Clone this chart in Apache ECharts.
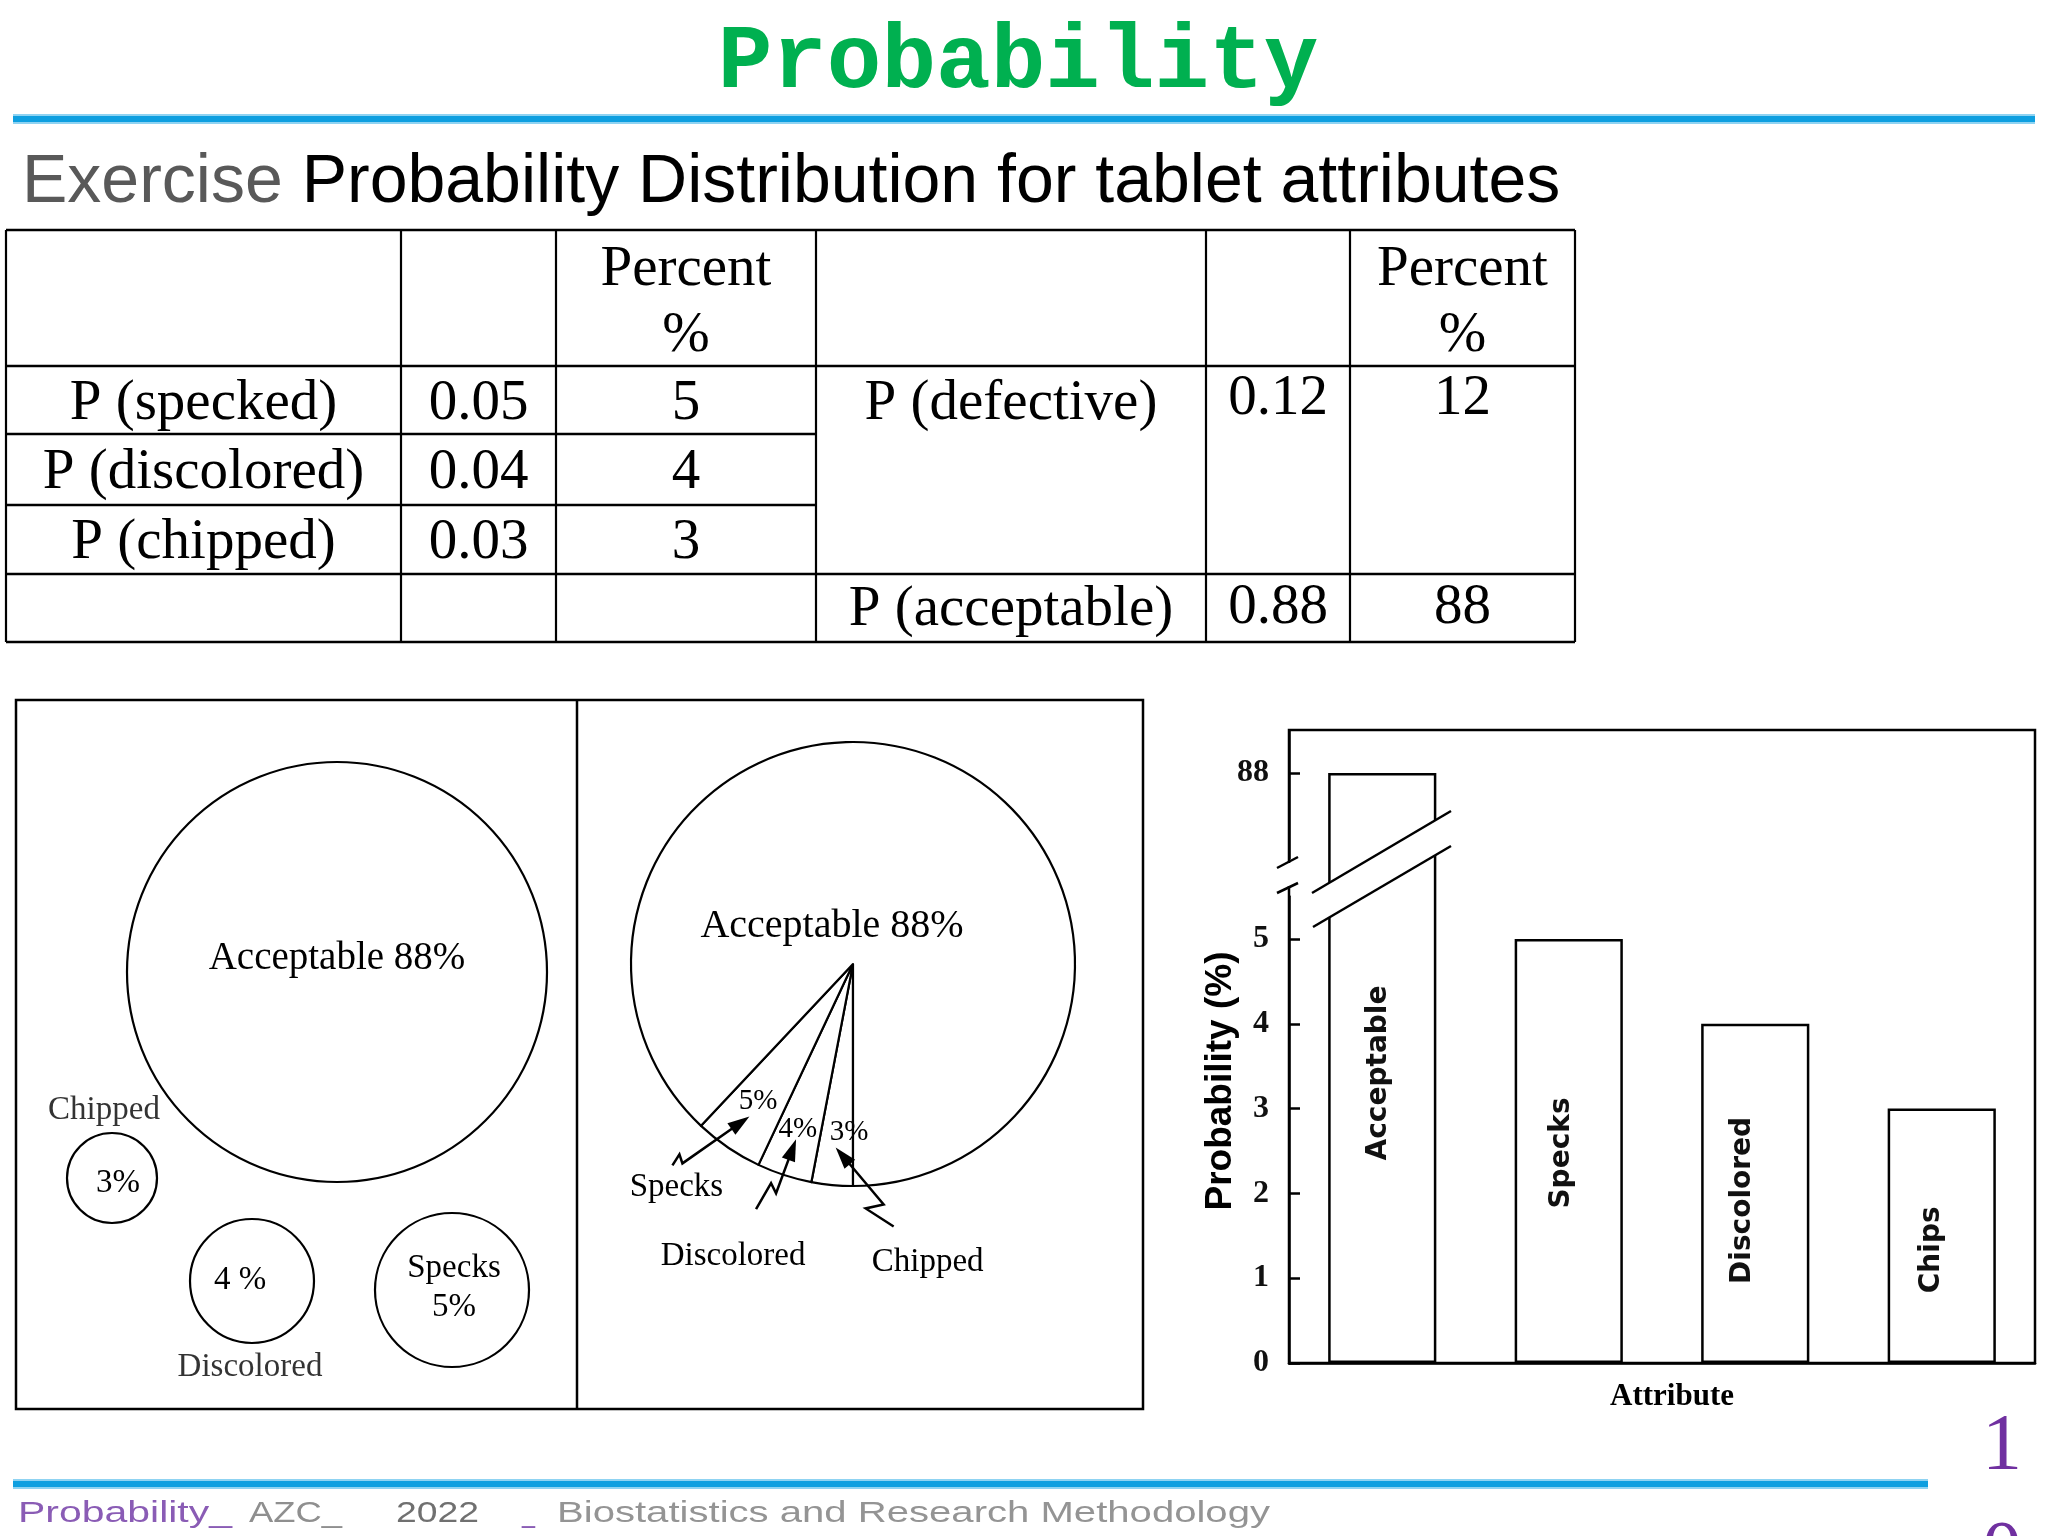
<!DOCTYPE html>
<html>
<head>
<meta charset="utf-8">
<script src="https://cdn.jsdelivr.net/npm/echarts@6/dist/echarts.min.js"></script>
<style>
html,body{margin:0;padding:0;background:#fff;}
#c{width:2048px;height:1536px;}
</style>
</head>
<body>
<div id="c"></div>
<script>
// ---------------- data ----------------
const attributes = ['Acceptable', 'Specks', 'Discolored', 'Chips'];
const attributePercent = [88, 5, 4, 3];
const lowTicks = [0, 1, 2, 3, 4, 5];
const highTicks = [88];

const tableLabels = ['P (specked)', 'P (discolored)', 'P (chipped)'];
const tableProb = [0.05, 0.04, 0.03];
const tablePercent = [5, 4, 3];
const summaryLabels = ['P (defective)', 'P (acceptable)'];
const summaryProb = [0.12, 0.88];
const summaryPercent = [12, 88];

const bubbleNames = ['Acceptable', 'Chipped', 'Discolored', 'Specks'];
const bubbleValues = [88, 3, 4, 5];

const pieNames = ['Chipped', 'Discolored', 'Specks', 'Acceptable'];
const pieValues = [3, 4, 5, 88];

// ---------------- layout / style ----------------
const SERIF = '"Liberation Serif", "Times New Roman", serif';
const SANS = '"Liberation Sans", Arial, sans-serif';
const G = [];
function T(x, y, text, font, fill, align, extra) {
  const el = { type: 'text', x: x, y: y, z: 10,
    style: { text: text, font: font, fill: fill || '#000',
      align: align || 'center', textAlign: align || 'center',
      verticalAlign: 'middle', textVerticalAlign: 'middle' } };
  if (extra) Object.assign(el, extra);
  G.push(el);
}
function L(x1, y1, x2, y2, w, z, color) {
  G.push({ type: 'line', z: z || 10, shape: { x1, y1, x2, y2 },
    style: { stroke: color || '#000', lineWidth: w || 2.5 } });
}
const mctx = document.createElement('canvas').getContext('2d');
function fitScale(text, font, width) { mctx.font = font; return width / mctx.measureText(text).width; }

// header
T(1018, 64, 'Probability', 'bold 91px "Liberation Mono", "Courier New", monospace', '#00B050');
G.push({ type: 'rect', z: 5, shape: { x: 13, y: 114, width: 2022, height: 10 }, style: { fill: '#8fd3f2' } });
G.push({ type: 'rect', z: 6, shape: { x: 13, y: 116, width: 2022, height: 6 }, style: { fill: '#0e9fe0' } });
G.push({ type: 'text', x: 22, y: 183, z: 10, style: {
  text: '{g|Exercise} {b|Probability Distribution for tablet attributes}',
  align: 'left', textAlign: 'left', verticalAlign: 'middle', textVerticalAlign: 'middle',
  rich: { g: { font: '68px ' + SANS, fill: '#595959', color: '#595959' },
          b: { font: '68px ' + SANS, fill: '#000', color: '#000' } },
  font: '68px ' + SANS } });

// table
const TC = [6, 401, 556, 816, 1206, 1350, 1575];
const TR = [230, 366, 434, 505, 574, 642];
[230, 366, 574, 642].forEach(y => L(TC[0], y, TC[6], y, 2.5));
[434, 505].forEach(y => L(TC[0], y, TC[3], y, 2.5));
TC.forEach(x => L(x, TR[0], x, TR[5], 2.2));
const TF = '57px ' + SERIF;
const colMid = i => (TC[i] + TC[i + 1]) / 2;
[2, 5].forEach(c => { T(colMid(c), 270, 'Percent', TF); T(colMid(c), 336, '%', TF); });
const rowMid = [404, 473, 543];
tableLabels.forEach((lab, i) => {
  T(colMid(0), rowMid[i], lab, TF);
  T(colMid(1), rowMid[i], tableProb[i].toFixed(2), TF);
  T(colMid(2), rowMid[i], String(tablePercent[i]), TF);
});
T(colMid(3), 404, summaryLabels[0], TF);
T(colMid(4), 399, summaryProb[0].toFixed(2), TF);
T(colMid(5), 399, String(summaryPercent[0]), TF);
T(colMid(3), 610, summaryLabels[1], TF);
T(colMid(4), 608, summaryProb[1].toFixed(2), TF);
T(colMid(5), 608, String(summaryPercent[1]), TF);

// diagram frame (bubbles + pie)
G.push({ type: 'rect', z: 10, shape: { x: 16, y: 700, width: 1127, height: 709 }, style: { fill: 'none', stroke: '#000', lineWidth: 2.5 } });
L(577, 700, 577, 1409, 2.5);

// pie geometry
const PIE = { cx: 853, cy: 964, r: 222 };
const pieTotal = pieValues.reduce((a, b) => a + b, 0);
const pieMid = [];
(function () { let acc = 0; pieValues.forEach(v => { pieMid.push((acc + v / 2) / pieTotal * 360); acc += v; }); })();
function polar(deg, frac) {
  const t = deg * Math.PI / 180;
  return [PIE.cx - frac * PIE.r * Math.sin(t), PIE.cy + frac * PIE.r * Math.cos(t)];
}
const PCT_NUDGE = { Chipped: [12, 0], Discolored: [-3, 5], Specks: [0, -2] };
// callouts (annotation offsets relative to arrow tip)
const CALLOUT = {
  Specks:     { label: [-73, 71],  tail: [[-77, 49], [-70, 38], [-67, 47]] },
  Discolored: { label: [-63, 117], tail: [[-40, 70], [-25, 44], [-20, 54]] },
  Chipped:    { label: [92, 115],  tail: [[58, 79], [30, 61], [48, 57]] }
};
pieNames.forEach((n, i) => {
  const c = CALLOUT[n]; if (!c) return;
  const tip = polar(pieMid[i], 0.83);
  const pts = c.tail.map(p => [tip[0] + p[0], tip[1] + p[1]]);
  const last = pts[pts.length - 1];
  let dx = tip[0] - last[0], dy = tip[1] - last[1];
  const len = Math.hypot(dx, dy); dx /= len; dy /= len;
  const AL = 22, AW = 7;
  const base = [tip[0] - dx * AL, tip[1] - dy * AL];
  G.push({ type: 'polyline', z: 12, shape: { points: pts.concat([[tip[0] - dx * AL * 0.6, tip[1] - dy * AL * 0.6]]) },
    style: { stroke: '#000', lineWidth: 2.5, fill: 'none' } });
  G.push({ type: 'polygon', z: 12, shape: { points: [tip, [base[0] - dy * AW, base[1] + dx * AW], [base[0] + dy * AW, base[1] - dx * AW]] },
    style: { fill: '#000' } });
});

// bar chart geometry
const BAR = { left: 1289, top: 730, width: 746, height: 633, pxPerUnit: 84.8, y88: 773 };
const Y_MAX = 88 + (BAR.y88 - BAR.top) / BAR.pxPerUnit;
const BREAK_START = 5.5, BREAK_END = 87;
const BREAK_GAP = BAR.height / BAR.pxPerUnit - (Y_MAX - (BREAK_END - BREAK_START));
const BAR_LABEL_OFFSET = { Acceptable: [-5, -4], Specks: [-2, -7], Discolored: [-7, -13], Chips: [-14, -10] };

G.push({ type: 'rect', z: 50, shape: { x: BAR.left, y: BAR.top, width: BAR.width, height: BAR.height }, style: { fill: 'none', stroke: '#000', lineWidth: 2.5 } });
// break decoration
G.push({ type: 'polygon', z: 100, shape: { points: [[1311, 894], [1452, 810], [1452, 846], [1311, 928]] }, style: { fill: '#fff' } });
L(1312, 893, 1451, 811, 2.5, 101);
L(1313, 927, 1451, 846, 2.5, 101);
G.push({ type: 'rect', z: 100, shape: { x: 1280, y: 863, width: 18, height: 23 }, style: { fill: '#fff' } });
L(1277, 868, 1298, 857, 2.5, 101);
L(1277, 893, 1298, 883, 2.5, 101);
// y axis title
T(1221, 1081, 'Probability (%)', 'bold 37px ' + SANS, '#000', 'center', { rotation: Math.PI / 2 });

// footer
G.push({ type: 'rect', z: 5, shape: { x: 13, y: 1479, width: 1915, height: 10 }, style: { fill: '#8fd3f2' } });
G.push({ type: 'rect', z: 6, shape: { x: 13, y: 1481, width: 1915, height: 6 }, style: { fill: '#0e9fe0' } });
const FF = '30px ' + SANS;
[
  ['Probability_', 18, 214, '#8a5cb5'],
  ['AZC_', 249, 93, '#8f8f8f'],
  ['2022', 396, 83, '#707070'],
  ['_', 522, 13, '#8a5cb5'],
  ['Biostatistics and Research Methodology', 557, 713, '#949494']
].forEach(f => {
  G.push({ type: 'text', x: f[1], y: 1514, z: 10, scaleX: fitScale(f[0], FF, f[2]),
    style: { text: f[0], font: FF, fill: f[3], align: 'left', textAlign: 'left', verticalAlign: 'middle', textVerticalAlign: 'middle' } });
});
T(2002, 1448, '1', '80px ' + SERIF, '#7030A0');
T(2002, 1555, '0', '80px ' + SERIF, '#7030A0');

// bubble layout (grid units = pixels inside the left panel)
const BUBBLE_LAYOUT = {
  Acceptable: { x: 321, y: 272, d: 420, fmt: (n, v) => n + ' ' + v + '%', size: 39, off: [0, -13] },
  Chipped:    { x: 96,  y: 478, d: 90,  fmt: (n, v) => v + '%', size: 33, off: [6, 5], name: { position: 'top', distance: 6, offset: [-8, 0] } },
  Discolored: { x: 236, y: 581, d: 124, fmt: (n, v) => v + ' %', size: 33, off: [-12, -1], name: { position: 'bottom', distance: 8, offset: [-2, 0] } },
  Specks:     { x: 436, y: 590, d: 154, fmt: (n, v) => n + '\n' + v + '%', size: 33, off: [2, -2] }
};

const option = {
  animation: false,
  backgroundColor: '#fff',
  textStyle: { fontFamily: SERIF },
  grid: [
    { left: BAR.left, top: BAR.top, width: BAR.width, height: BAR.height, show: false, outerBoundsMode: 'none' },
    { left: 16, top: 700, width: 561, height: 709, show: false, outerBoundsMode: 'none' }
  ],
  xAxis: [
    { type: 'category', gridIndex: 0, data: attributes,
      axisLine: { show: true, lineStyle: { color: '#000', width: 2.5 } },
      axisTick: { show: false }, axisLabel: { show: false }, splitLine: { show: false },
      name: 'Attribute', nameLocation: 'middle', nameGap: 18,
      nameTextStyle: { fontFamily: SERIF, fontWeight: 'bold', fontSize: 31, color: '#000', padding: [0, 0, 0, 20] } },
    { type: 'value', gridIndex: 1, min: 0, max: 561, show: false }
  ],
  yAxis: [
    { type: 'value', gridIndex: 0, min: 0, max: Y_MAX,
      breaks: [{ start: BREAK_START, end: BREAK_END, gap: BREAK_GAP }],
      breakArea: { show: false, itemStyle: { color: 'rgba(0,0,0,0)', borderColor: 'rgba(0,0,0,0)', borderWidth: 0, opacity: 0 } },
      axisLine: { show: true, lineStyle: { color: '#000', width: 2.5 } },
      axisTick: { show: true, inside: true, length: 11, customValues: lowTicks.concat(highTicks), lineStyle: { color: '#000', width: 2.5 } },
      axisLabel: { show: true, customValues: lowTicks.concat(highTicks), margin: 20, fontFamily: SERIF, fontWeight: 'bold', fontSize: 32, color: '#111' },
      splitLine: { show: false } },
    { type: 'value', gridIndex: 1, min: 0, max: 709, inverse: true, show: false }
  ],
  series: [
    { type: 'bar', xAxisIndex: 0, yAxisIndex: 0, silent: true, barWidth: '58%',
      data: attributes.map((n, i) => ({ value: attributePercent[i], label: { offset: BAR_LABEL_OFFSET[n] } })),
      itemStyle: { color: '#fff', borderColor: '#000', borderWidth: 2.5 },
      label: { show: true, position: 'inside', rotate: 90, formatter: '{b}', fontFamily: '"DejaVu Sans", sans-serif', fontWeight: 'bold', fontSize: 28, color: '#111' } },
    { type: 'scatter', xAxisIndex: 1, yAxisIndex: 1, silent: true, symbol: 'circle',
      data: bubbleNames.map((n, i) => {
        const b = BUBBLE_LAYOUT[n];
        return { name: n, value: [b.x, b.y, bubbleValues[i]], symbolSize: b.d,
          label: { formatter: b.fmt(n, bubbleValues[i]), fontSize: b.size, offset: b.off } };
      }),
      itemStyle: { color: '#fff', borderColor: '#000', borderWidth: 2.2, opacity: 1 },
      label: { show: true, position: 'inside', fontFamily: SERIF, color: '#000', lineHeight: 39 } },
    { type: 'scatter', xAxisIndex: 1, yAxisIndex: 1, silent: true, symbol: 'circle', z: 3,
      data: bubbleNames.map((n, i) => {
        const b = BUBBLE_LAYOUT[n];
        return { name: n, value: [b.x, b.y, bubbleValues[i]], symbolSize: b.d,
          label: b.name ? Object.assign({ show: true, formatter: n }, b.name) : { show: false } };
      }),
      itemStyle: { color: 'rgba(0,0,0,0)', borderWidth: 0 },
      label: { fontFamily: SERIF, fontSize: 33, color: '#000' } },
    { type: 'pie', center: [PIE.cx, PIE.cy], radius: PIE.r, startAngle: 270, clockwise: true, silent: true,
      data: pieNames.map((n, i) => ({ name: n, value: pieValues[i], label: n === 'Acceptable' ? { fontSize: 40 } : {} })),
      itemStyle: { color: '#fff', borderColor: '#000', borderWidth: 2.2 },
      label: { show: true, position: 'inside', fontFamily: SERIF, fontSize: 29, color: '#000',
        formatter: p => p.name === 'Acceptable' ? p.name + ' ' + p.value + '%' : p.value + '%' },
      labelLine: { show: false },
      labelLayout: p => {
        const n = pieNames[p.dataIndex];
        let pt;
        if (n === 'Acceptable') pt = [PIE.cx - 21, PIE.cy - 38];
        else { pt = polar(pieMid[p.dataIndex], 0.76); const d = PCT_NUDGE[n] || [0, 0]; pt = [pt[0] + d[0], pt[1] + d[1]]; }
        return { x: pt[0], y: pt[1], align: 'center', verticalAlign: 'middle' };
      } },
    { type: 'pie', center: [PIE.cx, PIE.cy], radius: PIE.r, startAngle: 270, clockwise: true, silent: true, z: 3,
      data: pieNames.map((n, i) => ({ name: n, value: pieValues[i] })),
      itemStyle: { color: 'rgba(0,0,0,0)', borderWidth: 0 },
      label: { show: true, position: 'inside', fontFamily: SERIF, fontSize: 33, color: '#000',
        formatter: p => CALLOUT[p.name] ? p.name : '' },
      labelLine: { show: false },
      labelLayout: p => {
        const n = pieNames[p.dataIndex];
        const c = CALLOUT[n];
        if (!c) return {};
        const tip = polar(pieMid[p.dataIndex], 0.83);
        return { x: tip[0] + c.label[0], y: tip[1] + c.label[1], align: 'center', verticalAlign: 'middle' };
      } }
  ],
  graphic: { elements: G }
};

const chart = echarts.init(document.getElementById('c'), null, { renderer: 'canvas' });
chart.setOption(option);
</script>
</body>
</html>
